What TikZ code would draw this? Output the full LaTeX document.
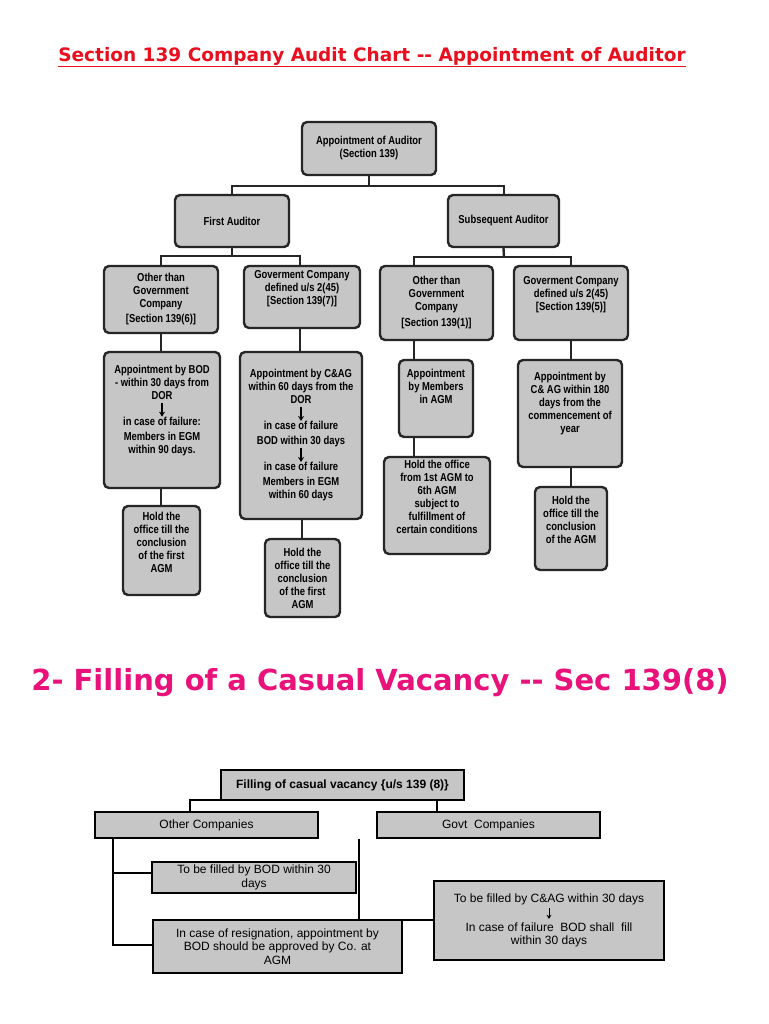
\documentclass[tikz,border=0pt]{standalone}
\usetikzlibrary{arrows.meta}
\usepackage{fontspec}
\setmainfont{Liberation Sans}
\newfontfamily\narrowf[FakeStretch=0.82]{Liberation Sans}
\newfontfamily\widef{DejaVu Sans}
\usepackage{xcolor}
\definecolor{boxg}{HTML}{C6C6C6}
\definecolor{titred}{HTML}{E8101E}
\definecolor{mag}{HTML}{E8127A}
\newcommand\darr{\tikz[baseline=-10pt,x=1pt,y=1pt]\draw[line width=1.2pt,-{Stealth[length=5pt,width=6pt]}] (0,0)--(0,-14);}
\newcommand\tarr{\tikz[baseline=-8pt,x=1pt,y=1pt]\draw[line width=0.8pt,-{Stealth[length=4pt,width=5pt]}] (0,0)--(0,-11);}
\begin{document}
\begin{tikzpicture}[x=1pt,y=-1pt,
  rb/.style={draw=black!85,line width=2.4pt,rounded corners=5pt,fill=boxg,align=center,font=\narrowf\bfseries\fontsize{11.5}{13}\selectfont,inner sep=1pt},
  sb/.style={draw=black,line width=1.4pt,fill=boxg,align=center,font=\fontsize{12}{13.5}\selectfont,inner sep=2pt},
  ln/.style={line width=2.4pt,black!85},
  ln2/.style={line width=1.6pt}]
\useasboundingbox (0,0) rectangle (768,1024);
\fill[white] (0,0) rectangle (768,1024);
\node[font=\widef\bfseries\fontsize{18.5}{20}\selectfont,text=titred] (t1) at (372,57) {\underline{Section 139 Company Audit Chart -- Appointment of Auditor}};
\newcommand\bx[6]{\node[rb,minimum width=#4-#2,minimum height=#5-#3] (#1) at ({(#2+#4)/2},{(#3+#5)/2}) {#6};}
\bx{top}{302}{122}{436}{175}{Appointment of Auditor\\(Section 139)}
\bx{fa}{175}{195}{289}{247}{First Auditor}
\bx{sa}{448}{195}{559}{247}{Subsequent Auditor}
\bx{a3}{104}{266}{218}{333}{Other than\\Government\\Company\\[2pt][Section 139(6)]}
\bx{b3}{244}{266}{360}{328}{Goverment Company\\defined u/s 2(45)\\{[Section 139(7)]}\\[6pt]}
\bx{c3}{380}{266}{493}{340}{Other than\\Government\\Company\\[3pt][Section 139(1)]}
\bx{d3}{514}{266}{628}{340}{Goverment Company\\defined u/s 2(45)\\{[Section 139(5)]}\\[6pt]}
\bx{a4}{104}{352}{220}{488}{Appointment by BOD\\- within 30 days from\\DOR\\\darr\\in case of failure:\\[2pt]Members in EGM\\within 90 days.\\[8pt]}
\bx{b4}{240}{352}{362}{519}{Appointment by C\&AG\\within 60 days from the\\DOR\\\darr\\in case of failure\\[2pt]BOD within 30 days\\\darr\\in case of failure\\[2pt]Members in EGM\\within 60 days}
\bx{c4}{399}{360}{473}{437}{Appointment\\by Members\\in AGM\\[12pt]}
\bx{d4}{518}{360}{622}{467}{Appointment by\\C\& AG within 180\\days from the\\commencement of\\year\\[10pt]}
\bx{a5}{123}{506}{200}{595}{Hold the\\office till the\\conclusion\\of the first\\AGM\\[4pt]}
\bx{b5}{265}{539}{340}{617}{Hold the\\office till the\\conclusion\\of the first\\AGM}
\bx{c5}{384}{457}{490}{554}{Hold the office\\from 1st AGM to\\6th AGM\\subject to\\fulfillment of\\certain conditions\\[4pt]}
\bx{d5}{535}{487}{607}{570}{Hold the\\office till the\\conclusion\\of the AGM\\[4pt]}
% connectors
\draw[ln] (top.south) -- (369,186) coordinate (j1);
\draw[ln] (fa.north -| 232,0) |- (j1) -| (sa.north -| 504,0);
\draw[ln] (fa.south) -- (232,256) coordinate (j2);
\draw[ln] (a3.north -| 161,0) |- (j2) -| (b3.north -| 300,0);
\draw[ln] (sa.south) -- (504,257) coordinate (j3);
\draw[ln] (c3.north -| 414,0) |- (j3) -| (d3.north -| 571,0);
\draw[ln] (a3.south -| 161,0) -- (a4.north -| 161,0);
\draw[ln] (b3.south -| 300,0) -- (b4.north -| 300,0);
\draw[ln] (c3.south -| 414,0) -- (c4.north -| 414,0);
\draw[ln] (d3.south -| 571,0) -- (d4.north -| 571,0);
\draw[ln] (a4.south -| 161,0) -- (a5.north -| 161,0);
\draw[ln] (b4.south -| 302,0) -- (b5.north -| 302,0);
\draw[ln] (c4.south -| 414,0) -- (c5.north -| 414,0);
\draw[ln] (d4.south -| 571,0) -- (d5.north -| 571,0);
% section 2
\node[font=\widef\bfseries\fontsize{29}{32}\selectfont,text=mag] (t2) at (380,683) {2- Filling of a Casual Vacancy -- Sec 139(8)};
\newcommand\sx[6]{\node[sb,minimum width=#4-#2,minimum height=#5-#3] (#1) at ({(#2+#4)/2},{(#3+#5)/2}) {#6};}
\sx{ft}{221}{770}{464}{800}{\bfseries Filling of casual vacancy \{u/s 139 (8)\}}
\sx{oc}{95}{812}{318}{838}{Other Companies}
\sx{gc}{377}{812}{600}{838}{Govt\ \ Companies}
\sx{o1}{152}{862}{356}{893}{To be filled by BOD within 30\\days}
\sx{o2}{153}{920}{402}{973}{In case of resignation, appointment by\\BOD should be approved by Co. at\\AGM}
\sx{g1}{434}{881}{664}{960}{To be filled by C\&AG within 30 days\\\tarr\\[2pt]In case of failure\ \ BOD shall\ \ fill\\within 30 days}
\coordinate (k1) at (190,800);
\coordinate (k2) at (437,800);
\draw[ln2] (ft.west |- k1) -- (k1) -- (oc.north -| k1);
\draw[ln2] (ft.east |- k2) -- (k2) -- (gc.north -| k2);
\draw[ln2] (oc.south -| 113,0) -- (113,945) -- (o2.west |- 113,945);
\draw[ln2] (113,873) -- (o1.west |- 113,873);
\draw[ln2] (gc.south -| 359,0) -- (359,920) -- (g1.west |- 359,920);
\end{tikzpicture}
\end{document}
